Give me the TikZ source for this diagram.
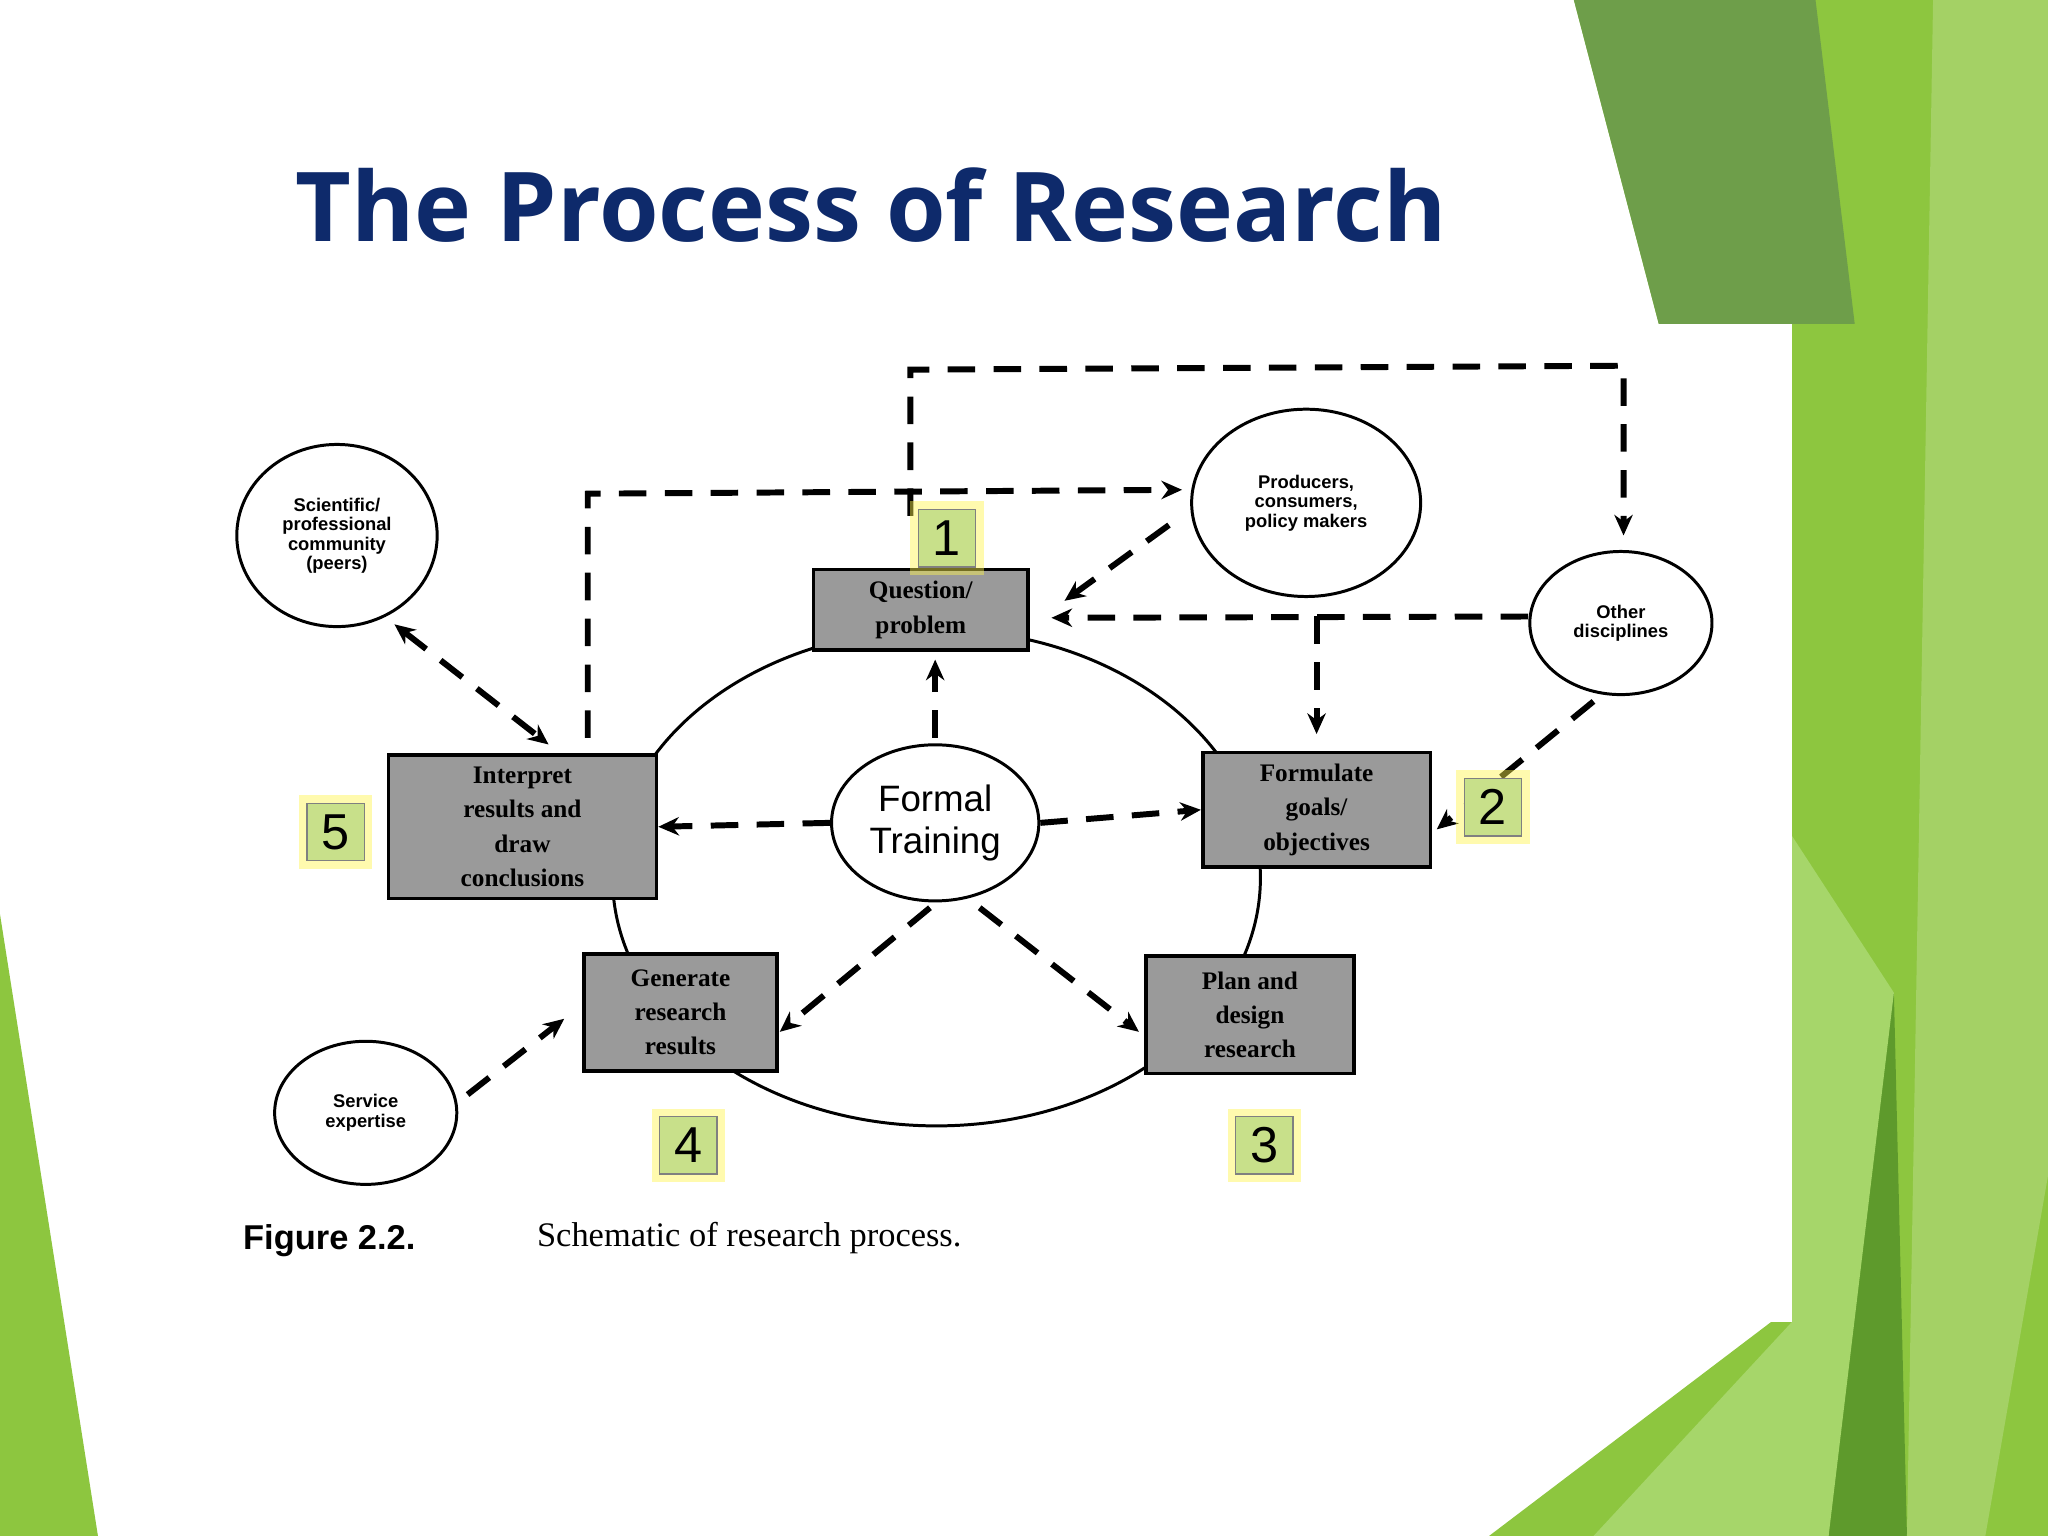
\documentclass[tikz,border=0pt]{standalone}
\usepackage{fontspec}
\setmainfont{Liberation Serif}
\newfontfamily\sans{Liberation Sans}
\newfontfamily\titlef{Open Sans}
\usetikzlibrary{arrows.meta,shapes.geometric}
\definecolor{navy}{HTML}{0E2A6B}
\definecolor{g1}{HTML}{8DC63F}
\definecolor{g2}{HTML}{6E9E4A}
\definecolor{g3}{HTML}{A6D66A}
\definecolor{g4}{HTML}{5E9A2C}
\definecolor{boxg}{HTML}{9A9A9A}
\definecolor{hl}{HTML}{C8E08A}
\begin{document}
\begin{tikzpicture}[x=0.02cm,y=-0.02cm,
  box/.style={draw=black,line width=1.6pt,fill=boxg,align=center,font=\bfseries\fontsize{11}{15}\selectfont,inner sep=2pt,
    postaction={draw=black,line width=0.8pt,shorten >=0pt}},
  circ/.style={draw=black,line width=1.3pt,ellipse,fill=white,align=center,font=\sans\bfseries\fontsize{8}{8.5}\selectfont},
  num/.style={draw=black!50,line width=0.6pt,fill=hl,minimum width=25pt,minimum height=25pt,font=\sans\fontsize{22}{22}\selectfont,inner sep=0pt,
    preaction={draw=yellow!70,line width=7pt,opacity=0.45}},
  da/.style={dashed,dash pattern=on 12pt off 8pt,line width=2.6pt,-{Stealth[length=9pt,width=8pt]}}]
\useasboundingbox (0,0) rectangle (1568,1176);
\fill[white] (0,0) rectangle (1568,1176);
% green decorations
\fill[g1] (1205,0) -- (1568,0) -- (1568,1176) -- (1140,1176) -- (1372,1000) -- (1372,248) -- (1270,248) -- cycle;
\fill[g2] (1205,0) -- (1390,0) -- (1420,248) -- (1270,248) -- cycle;
\fill[g4] (1372,700) -- (1450,760) -- (1460,1176) -- (1400,1176) -- cycle;
\fill[g3] (1372,640) -- (1450,760) -- (1400,1176) -- (1220,1176) -- (1372,1012) -- cycle;
\fill[g1!80!white] (1480,0) -- (1568,0) -- (1568,900) -- (1520,1176) -- (1460,1176) -- cycle;
\fill[g1] (0,700) -- (75,1176) -- (0,1176) -- cycle;
\fill[white] (165,248) rectangle (1372,1012);
% title
\node[font=\titlef\bfseries\fontsize{42}{42}\selectfont,text=navy] (title) at (667,157) {The Process of Research};
% main cycle
\draw[line width=1.3pt] (717,672) ellipse [x radius=248,y radius=190];
% boxes
\node[box,minimum width=165*0.567pt,minimum height=62*0.567pt] (q) at (705,467) {Question/\\problem};
\node[box,minimum width=175*0.567pt,minimum height=88*0.567pt] (f) at (1008,620) {Formulate\\goals/\\objectives};
\node[box,minimum width=160*0.567pt,minimum height=90*0.567pt] (p) at (957,777) {Plan and\\design\\research};
\node[box,minimum width=148*0.567pt,minimum height=90*0.567pt] (g) at (521,775) {Generate\\research\\results};
\node[box,minimum width=206*0.567pt,minimum height=110*0.567pt] (i) at (400,633) {Interpret\\results and\\draw\\conclusions};
% circles
\node[circ,minimum width=154*0.567pt,minimum height=140*0.567pt] (s) at (258,410) {Scientific/\\professional\\community\\(peers)};
\node[circ,minimum width=176*0.567pt,minimum height=144*0.567pt] (pr) at (1000,385) {Producers,\\consumers,\\policy makers};
\node[circ,minimum width=140*0.567pt,minimum height=110*0.567pt] (o) at (1241,477) {Other\\disciplines};
\node[circ,minimum width=140*0.567pt,minimum height=110*0.567pt] (sv) at (280,852) {Service\\expertise};
\node[circ,minimum width=156*0.567pt,minimum height=120*0.567pt,font=\sans\fontsize{16}{18}\selectfont] (ft) at (716,630) {Formal\\Training};
% arrows
\coordinate (a1) at (716,565); \coordinate (a2) at (716,505);
\draw[da] (a1) -- (a2);
\draw[da] (ft.west) -- (i.east);
\draw[da] (ft.east) -- (f.west);
\coordinate (b1) at (712,695); \coordinate (b2) at (597,790);
\draw[da] (b1) -- (b2);
\coordinate (c1) at (750,695); \coordinate (c2) at (872,790);
\draw[da] (c1) -- (c2);
\coordinate (d1) at (450,565); \coordinate (d2) at (450,378); \coordinate (d3) at (905,375);
\draw[da] (d1) -- (d2) -- (d3);
\coordinate (e1) at (697,395); \coordinate (e2) at (697,283); \coordinate (e3) at (1243,280); \coordinate (e4) at (1243,410);
\draw[da] (e1) -- (e2) -- (e3) -- (e4);
\coordinate (h1) at (895,402); \coordinate (h2) at (815,460);
\draw[da] (h1) -- (h2);
\coordinate (k1) at (1170,472); \coordinate (k2) at (805,473);
\draw[da] (k1) -- (k2);
\coordinate (m1) at (1008,472); \coordinate (m2) at (1008,562);
\draw[da] (m1) -- (m2);
\coordinate (r1) at (1220,537); \coordinate (r2) at (1100,635);
\draw[da] (r1) -- (r2);
\coordinate (t1) at (302,478); \coordinate (t2) at (420,570);
\draw[da,{Stealth[length=9pt,width=8pt]}-{Stealth[length=9pt,width=8pt]}] (t1) -- (t2);
\coordinate (u1) at (358,838); \coordinate (u2) at (432,780);
\draw[da] (u1) -- (u2);
% numbers
\node[num] (n1) at (725,412) {1};
\node[num] (n2) at (1143,618) {2};
\node[num] (n3) at (968,877) {3};
\node[num] (n4) at (527,877) {4};
\node[num] (n5) at (257,637) {5};
% caption
\node[anchor=west,font=\sans\bfseries\fontsize{15}{15}\selectfont] (cap1) at (180,950) {Figure 2.2.};
\node[anchor=west,font=\fontsize{15}{15}\selectfont] (cap2) at (405,948) {Schematic of research process.};
\end{tikzpicture}
\end{document}
